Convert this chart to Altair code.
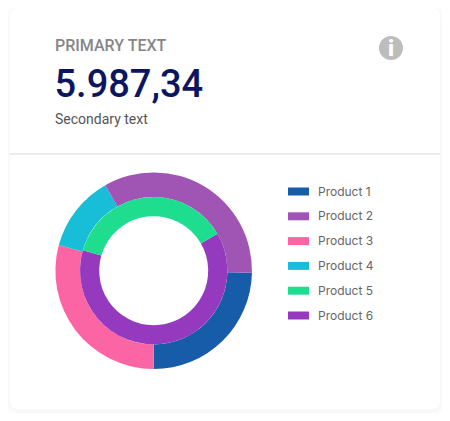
import altair as alt
import pandas as pd

products = ["Product 1", "Product 2", "Product 3", "Product 4", "Product 5", "Product 6"]
colors = ["#175CA8", "#A055B5", "#FB65A3", "#18BDD8", "#1EDD8E", "#9539BE"]

outer_names = ["Product 1", "Product 3", "Product 4", "Product 2"]
outer_values = [24.67, 29.2, 12.6, 33.53]
inner_names = ["Product 6", "Product 5"]
inner_values = [62.8, 37.2]

W, H = 434, 405

def cv(v):
    return alt.value(v)

def box(expand, opacity, color="#000000", dy=2):
    return alt.Chart(pd.DataFrame({"a": [0]})).mark_rect(
        cornerRadius=8 + expand, color=color, opacity=opacity
    ).encode(
        x=cv(2 - expand), x2=cv(432 + expand),
        y=cv(0 - expand + dy), y2=cv(401 + expand + dy),
    )

shadow = [box(e, 0.004) for e in (7, 6, 5, 4, 3, 2, 1)]
card = box(0, 1, "#ffffff", 0)

divider = alt.Chart(pd.DataFrame({"a": [0]})).mark_rule(color="#ECECEC", strokeWidth=2).encode(
    x=cv(2), x2=cv(432), y=cv(146)
)

def label(txt, x, y, **kw):
    return alt.Chart(pd.DataFrame({"t": [txt]})).mark_text(align="left", baseline="alphabetic", font="Roboto", **kw).encode(
        x=cv(x), y=cv(y), text="t:N"
    )

primary = label("PRIMARY TEXT", 47, 43, fontSize=16, fontWeight=500, color="#868686")
value = label("5.987,34", 46.5, 89, fontSize=38, fontWeight=500, color="#0B1560")
secondary = label("Secondary text", 47, 116, fontSize=14, color="#555555")

icon = alt.Chart(pd.DataFrame({"a": [0]})).mark_point(filled=True, opacity=1, size=576, color="#BDBDBD", shape="circle").encode(
    x=cv(383), y=cv(40)
)
icon_i = alt.Chart(pd.DataFrame({"t": ["i"]})).mark_text(
    font="Roboto", fontWeight=900, fontSize=22, color="#ffffff", align="center", baseline="alphabetic"
).encode(x=cv(383), y=cv(48), text="t:N")

color = alt.Color(
    "name:N",
    scale=alt.Scale(domain=products, range=colors),
    legend=alt.Legend(
        title=None, orient="none", legendX=280, legendY=173,
        symbolType="M-1,-0.38H1V0.38H-1Z", symbolSize=441, symbolStrokeWidth=0, symbolOpacity=1,
        labelFont="Inter", labelFontSize=12, labelColor="#666666", labelOffset=9,
        rowPadding=7.8, labelLimit=120,
    ),
)

def ring(names, values, start, r, r2):
    df = pd.DataFrame({"name": names, "v": values, "seq": list(range(len(names)))})
    return alt.Chart(df).mark_arc(radius=r, radius2=r2, stroke=None).encode(
        theta=alt.Theta("v:Q", stack=True, scale=alt.Scale(domain=[0, 100], range=[start, start + 6.28319])),
        order=alt.Order("seq:Q"),
        color=color,
        x=cv(145.7), y=cv(262.7),
    )

outer = ring(outer_names, outer_values, 1.592, 98.3, 73.7)
inner = ring(inner_names, inner_values, 1.0472, 73.7, 54.5)

chart = alt.layer(
    *shadow, card, divider, primary, value, secondary, icon, icon_i, outer, inner
).resolve_scale(theta="independent").properties(
    width=W, height=H, padding=0, autosize=alt.AutoSizeParams(type="none"),
    background="#ffffff",
).configure_view(stroke=None)

chart.save("out.html", embed_options={"renderer": "svg", "actions": False})
